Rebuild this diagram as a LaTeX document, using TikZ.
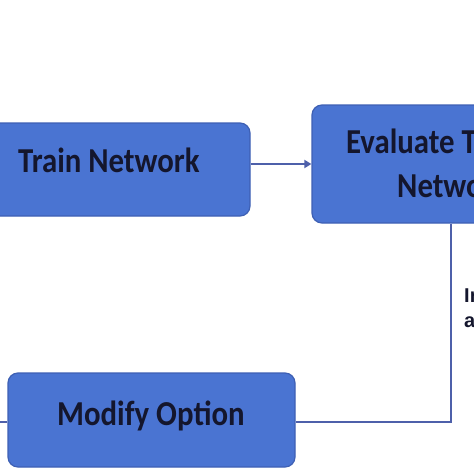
\documentclass[tikz,border=0pt]{standalone}
\usepackage{fontspec}
\newfontfamily\boxfont{Carlito}[FakeStretch=0.88]
\newfontfamily\sidefont{Liberation Sans}
\usetikzlibrary{arrows.meta}
\definecolor{boxfill}{RGB}{74,116,210}
\definecolor{boxedge}{RGB}{62,96,180}
\definecolor{linecol}{RGB}{78,96,170}
\definecolor{txtcol}{RGB}{20,22,45}
\tikzset{
  flowbox/.style={draw=boxedge, line width=1.2pt, fill=boxfill, rounded corners=10pt, inner sep=0pt},
  boxtext/.style={font=\boxfont\bfseries\fontsize{35}{40}\selectfont, text=txtcol, inner sep=0pt, anchor=base west},
  sidetext/.style={font=\sidefont\bfseries\fontsize{20}{24}\selectfont, text=txtcol, inner sep=0pt, anchor=base west},
  conn/.style={draw=linecol, line width=1.8pt},
}
\begin{document}
\begin{tikzpicture}[x=1pt,y=-1pt]
\useasboundingbox (0,0) rectangle (474,474);
\clip (0,0) rectangle (474,474);
\fill[white] (0,0) rectangle (474,474);
% boxes
\node[flowbox, minimum width=282pt, minimum height=93pt] (train) at (109,169.5) {};
\node[flowbox, minimum width=280pt, minimum height=118pt] (eval) at (452,164) {};
\node[flowbox, minimum width=287pt, minimum height=94pt] (modify) at (151.5,420) {};
% texts
\node[boxtext] (t1) at (18,172) {Train Network};
\node[boxtext] (t2) at (346,153) {Evaluate T};
\node[boxtext] (t3) at (397,197) {Netwo};
\node[boxtext] (t4) at (57,425) {Modify Option};
\node[sidetext] (s1) at (464,302) {In};
\node[sidetext] (s2) at (464,327) {a};
% connectors
\coordinate (corner) at (451,422);
\coordinate (leftend) at (0,422);
\draw[conn, -{Triangle[length=7pt,width=8pt]}] (train.east |- eval.west) -- (eval.west);
\draw[conn] (eval.south -| corner) -- (corner) -- (modify.east |- corner);
\draw[conn] (modify.west |- leftend) -- (leftend);
\end{tikzpicture}
\end{document}
